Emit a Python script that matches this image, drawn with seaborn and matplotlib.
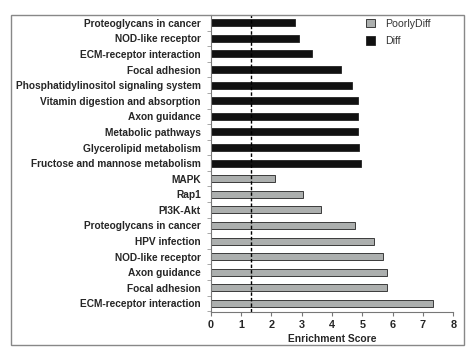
import matplotlib
matplotlib.use("Agg")
import matplotlib.pyplot as plt
import seaborn as sns
import pandas as pd
from matplotlib.patches import Rectangle

diff_terms = ["Proteoglycans in cancer", "NOD-like receptor", "ECM-receptor interaction",
              "Focal adhesion", "Phosphatidylinositol signaling system",
              "Vitamin digestion and absorption", "Axon guidance", "Metabolic pathways",
              "Glycerolipid metabolism", "Fructose and mannose metabolism"]
diff_scores = [2.80, 2.93, 3.34, 4.31, 4.67, 4.86, 4.86, 4.86, 4.88, 4.97]

poor_terms = ["MAPK", "Rap1", "PI3K-Akt", "Proteoglycans in cancer", "HPV infection",
              "NOD-like receptor", "Axon guidance", "Focal adhesion", "ECM-receptor interaction"]
poor_scores = [2.13, 3.04, 3.65, 4.77, 5.38, 5.69, 5.81, 5.83, 7.34]

threshold = 1.35
x_ticks = [0, 1, 2, 3, 4, 5, 6, 7, 8]

sns.set_style("ticks")
plt.rcParams['font.family'] = ['Liberation Sans', 'DejaVu Sans']

rows = []
for t, s in zip(diff_terms, diff_scores):
    rows.append({"key": "Diff|" + t, "term": t, "score": s, "group": "Diff"})
for t, s in zip(poor_terms, poor_scores):
    rows.append({"key": "PoorlyDiff|" + t, "term": t, "score": s, "group": "PoorlyDiff"})
df = pd.DataFrame(rows)

fig = plt.figure(figsize=(4.74, 3.53), dpi=100)
ax = fig.add_axes([210.5 / 474, 1 - 312 / 353, (453.3 - 210.5) / 474, (312 - 15) / 353])

sns.barplot(data=df, x="score", y="key", hue="group", order=list(df["key"]),
            hue_order=["PoorlyDiff", "Diff"],
            palette={"PoorlyDiff": "#abb0ae", "Diff": "#111111"},
            dodge=False, width=0.45, edgecolor="#222222", linewidth=0.6, ax=ax)

ax.set_ylim(len(df) - 0.45, -0.5)
ax.set_xlim(0, 8)
ax.set_xticks(x_ticks)
ax.set_xticklabels([str(v) for v in x_ticks], fontweight="bold", fontsize=7.8)
ax.set_yticks(range(len(df)))
ax.set_yticklabels(list(df["term"]), fontweight="bold", fontsize=7.3)
ax.tick_params(axis="y", length=0, pad=7)
ax.set_yticks([i + 0.5 for i in range(-1, len(df))], minor=True)
ax.tick_params(axis="y", which="minor", length=3, color="#999999")
ax.tick_params(axis="x", length=3, color="#777777", pad=3)
ax.set_xlabel("Enrichment Score", fontweight="bold", fontsize=7.4, labelpad=3)
ax.set_ylabel("")
for side in ["top", "right"]:
    ax.spines[side].set_visible(False)
for side in ["left", "bottom"]:
    ax.spines[side].set_color("#777777")
    ax.spines[side].set_linewidth(0.8)

ax.axvline(threshold, color="black", linestyle=(0, (2.5, 1.5)), linewidth=1.0)

leg = ax.legend(loc="upper left", bbox_to_anchor=(0.6, 1.02), frameon=False, fontsize=7.6,
                handlelength=0.9, handleheight=0.9, handletextpad=0.9, labelspacing=0.7)
for txt in leg.get_texts():
    txt.set_color("#333333")

fig.patches.append(Rectangle((11 / 474, 1 - 345 / 353), (464 - 11) / 474, (345 - 15) / 353,
                             transform=fig.transFigure, fill=False, edgecolor="#888888",
                             linewidth=1.0, zorder=0))

fig.savefig("out.png", dpi=100)
